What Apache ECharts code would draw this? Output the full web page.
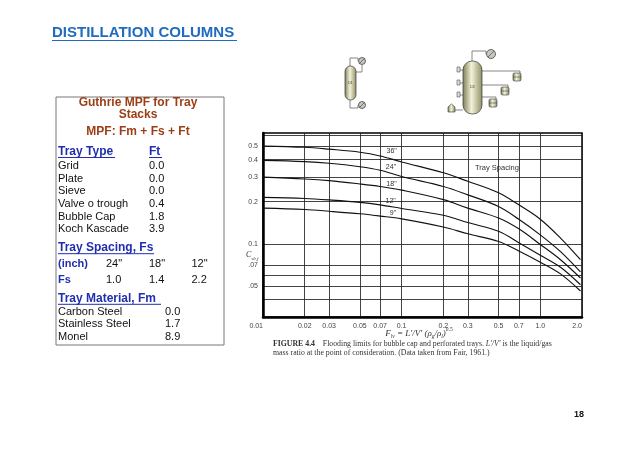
<!DOCTYPE html>
<html><head><meta charset="utf-8">
<script src="https://cdn.jsdelivr.net/npm/echarts@6/dist/echarts.min.js"></script>
<style>html,body{margin:0;padding:0;background:#fff}#c{width:638px;height:451px}</style>
</head><body><div id="c"></div>
<script>
// Flow parameter F_lv (x) and flooding capacity C_sb,f (y) per tray spacing
const flv = [0.01, 0.02, 0.03, 0.05, 0.07, 0.1, 0.2, 0.3, 0.5, 0.7, 1.0, 1.4, 1.95];
const c36 = [0.500, 0.490, 0.475, 0.452, 0.425, 0.385, 0.322, 0.280, 0.232, 0.190, 0.150, 0.110, 0.077];
const c24 = [0.395, 0.387, 0.377, 0.356, 0.336, 0.303, 0.257, 0.224, 0.185, 0.150, 0.116, 0.088, 0.063];
const c18 = [0.300, 0.291, 0.283, 0.268, 0.257, 0.242, 0.207, 0.180, 0.153, 0.128, 0.099, 0.077, 0.057];
const c12 = [0.215, 0.211, 0.206, 0.198, 0.190, 0.179, 0.160, 0.142, 0.123, 0.102, 0.083, 0.068, 0.051];
const c9  = [0.180, 0.176, 0.171, 0.164, 0.158, 0.151, 0.132, 0.118, 0.104, 0.089, 0.074, 0.061, 0.046];
const seriesNames = ['36"', '24"', '18"', '12"', '9"'];
const xTickLabels = [0.01, 0.02, 0.03, 0.05, 0.07, 0.1, 0.2, 0.3, 0.5, 0.7, 1.0, 2.0];
const xGridValues = [0.01, 0.02, 0.03, 0.05, 0.07, 0.1, 0.2, 0.3, 0.5, 0.7, 1.0, 2.0];
const yTickLabels = [0.05, 0.07, 0.1, 0.2, 0.3, 0.4, 0.5];
const yGridValues = [0.04, 0.05, 0.06, 0.07, 0.1, 0.2, 0.3, 0.4, 0.5, 0.6];

// Left table
const trayTypes = ['Grid', 'Plate', 'Sieve', 'Valve o trough', 'Bubble Cap', 'Koch Kascade'];
const trayFt = ['0.0', '0.0', '0.0', '0.4', '1.8', '3.9'];
const spacingInch = ['24"', '18"', '12"'];
const spacingFs = ['1.0', '1.4', '2.2'];
const materials = ['Carbon Steel', 'Stainless Steel', 'Monel'];
const materialFm = ['0.0', '1.7', '8.9'];

const SANS = '"Liberation Sans", Arial, sans-serif';
const SERIF = '"Liberation Serif", "Times New Roman", serif';
const BROWN = '#9c3d14';
const BLUE = '#1f2fae';

const chart = echarts.init(document.getElementById('c'), null, {renderer: 'canvas'});

const curves = [c36, c24, c18, c12, c9];
const series = curves.map((arr, k) => ({
  name: seriesNames[k],
  type: 'line',
  smooth: 0.35,
  symbol: 'none',
  silent: true,
  lineStyle: {color: '#111', width: 1.15},
  data: flv.map((x, i) => [x, arr[i]])
}));

const g = [];
function txt(text, x, y, font, fill, align) {
  g.push({type: 'text', z: 10, style: {text, x, y, font, fill: fill || '#111', align: align || 'left', verticalAlign: 'middle'}});
}
function uline(x1, x2, y, color, w) {
  g.push({type: 'line', z: 10, shape: {x1, y1: y, x2, y2: y}, style: {stroke: color, lineWidth: w || 1}});
}

// Slide title
txt('DISTILLATION COLUMNS', 52, 33, 'bold 15px ' + SANS, '#1f6bbf');
uline(52, 237, 40.5, '#1f6bbf', 1.2);

// Box
g.push({type: 'rect', z: 5, shape: {x: 56, y: 97, width: 168, height: 248}, style: {fill: 'none', stroke: '#777', lineWidth: 1}});
txt('Guthrie MPF for Tray', 138, 103, 'bold 12px ' + SANS, BROWN, 'center');
txt('Stacks', 138, 114.5, 'bold 12px ' + SANS, BROWN, 'center');
txt('MPF: Fm + Fs + Ft', 138, 131.5, 'bold 12px ' + SANS, BROWN, 'center');
txt('Tray Type', 58, 151.5, 'bold 12px ' + SANS, BLUE);
uline(58, 115, 157.5, BLUE);
txt('Ft', 149, 151.5, 'bold 12px ' + SANS, BLUE);
uline(149, 162, 157.5, BLUE);
const rowY = [166, 178.7, 191.2, 204, 216.7, 229.3];
trayTypes.forEach((t, i) => { txt(t, 58, rowY[i], '11px ' + SANS); txt(trayFt[i], 149, rowY[i], '11px ' + SANS); });
txt('Tray Spacing, Fs', 58, 247.7, 'bold 12px ' + SANS, BLUE);
uline(58, 154, 253.7, BLUE);
txt('(inch)', 58, 264.3, 'bold 11px ' + SANS, BLUE);
txt('Fs', 58, 280, 'bold 11px ' + SANS, BLUE);
const colX = [106, 149, 191.5];
spacingInch.forEach((t, i) => txt(t, colX[i], 264.3, '11px ' + SANS));
spacingFs.forEach((t, i) => txt(t, colX[i], 280, '11px ' + SANS));
txt('Tray Material, Fm', 58, 298.3, 'bold 12px ' + SANS, BLUE);
uline(58, 161, 304.3, BLUE);
const matY = [311.7, 324.3, 337.3];
materials.forEach((t, i) => { txt(t, 58, matY[i], '11px ' + SANS); txt(materialFm[i], 165, matY[i], '11px ' + SANS); });

// Page number
txt('18', 579, 415, 'bold 9px ' + SANS, '#111', 'center');

// Curve labels & annotations
const lblPos = [[391.7, 151.5], [391, 167.5], [391.5, 184], [390.7, 201.3], [393, 213]];
seriesNames.forEach((n, i) => txt(n, lblPos[i][0], lblPos[i][1], '7px ' + SANS, '#333', 'center'));
txt('Tray Spacing', 497, 168, '7.5px ' + SANS, '#333', 'center');

// Y axis name
g.push({type: 'text', z: 10, style: {
  text: '{c|C}{s|sb,f}', x: 246, y: 255, align: 'left', verticalAlign: 'middle',
  rich: {
    c: {font: 'italic 8px ' + SERIF, fill: '#333', lineHeight: 12, verticalAlign: 'middle'},
    s: {font: 'italic 5px ' + SERIF, fill: '#333', lineHeight: 12, verticalAlign: 'bottom'}
  }}});
// X axis name
g.push({type: 'text', z: 10, style: {
  text: '{m|F}{s|lv}{m| = L\'/V\' (\u03c1}{s|g}{m|/\u03c1}{s|l}{m|)}{p|0.5}', x: 419, y: 333.5, align: 'center', verticalAlign: 'middle',
  rich: {
    m: {font: 'italic 9px ' + SERIF, fill: '#333', lineHeight: 13, verticalAlign: 'middle'},
    s: {font: 'italic 5.5px ' + SERIF, fill: '#333', lineHeight: 13, verticalAlign: 'bottom'},
    p: {font: '5.5px ' + SERIF, fill: '#333', lineHeight: 13, verticalAlign: 'top'}
  }}});
// Caption
g.push({type: 'text', z: 10, style: {
  text: '{b|FIGURE 4.4}{n|    Flooding limits for bubble cap and perforated trays. }{i|L\'/V\'}{n| is the liquid/gas}',
  x: 273, y: 343.5, align: 'left', verticalAlign: 'middle',
  rich: {
    b: {font: 'bold 7.8px ' + SERIF, fill: '#333'},
    n: {font: '7.8px ' + SERIF, fill: '#333'},
    i: {font: 'italic 7.8px ' + SERIF, fill: '#333'}
  }}});
txt('mass ratio at the point of consideration. (Data taken from Fair, 1961.)', 273, 352.5, '7.8px ' + SERIF, '#333');

// Process flowsheet icons (decorative)
const colGrad = () => new echarts.graphic.LinearGradient(0, 0, 1, 0, [
  {offset: 0, color: '#7d7d58'}, {offset: 0.45, color: '#f2f2d8'}, {offset: 1, color: '#8e8e66'}]);
function poly(points) { g.push({type: 'polyline', z: 6, shape: {points}, style: {stroke: '#555', lineWidth: 0.7, fill: 'none'}}); }
function gauge(cx, cy, r) {
  g.push({type: 'circle', z: 7, shape: {cx, cy, r}, style: {fill: '#c8c8c0', stroke: '#333', lineWidth: 0.7}});
  g.push({type: 'line', z: 8, shape: {x1: cx - r * 0.7, y1: cy + r * 0.7, x2: cx + r * 0.7, y2: cy - r * 0.7}, style: {stroke: '#333', lineWidth: 0.6}});
}
function drum(x, y) {
  g.push({type: 'rect', z: 7, shape: {x, y, width: 8, height: 8, r: 1.5}, style: {fill: colGrad(), stroke: '#333', lineWidth: 0.6}});
  g.push({type: 'line', z: 8, shape: {x1: x, y1: y + 4, x2: x + 8, y2: y + 4}, style: {stroke: '#333', lineWidth: 0.5}});
}
// D1
poly([[350, 67], [350, 58], [358, 58], [358, 61]]);
poly([[350, 99], [350, 108], [358, 108], [358, 105]]);
poly([[356, 72], [362, 72], [362, 65]]);
g.push({type: 'rect', z: 7, shape: {x: 345, y: 66, width: 11, height: 34, r: 5.5}, style: {fill: colGrad(), stroke: '#333', lineWidth: 0.7}});
txt('D1', 350.5, 83, '3.5px ' + SANS, '#333', 'center');
gauge(362, 61, 3.5);
gauge(362, 105, 3.5);
// D2
poly([[472, 61], [472, 51], [486, 51], [486, 54]]);
poly([[482, 71], [520, 71], [520, 73]]);
poly([[482, 85], [508, 85], [508, 87]]);
poly([[482, 97], [496, 97], [496, 99]]);
poly([[463, 70], [458, 70]]);
poly([[463, 83], [458, 83]]);
poly([[463, 95], [458, 95]]);
poly([[463, 110], [455, 110]]);
g.push({type: 'rect', z: 7, shape: {x: 463, y: 61, width: 19, height: 53, r: 9}, style: {fill: colGrad(), stroke: '#333', lineWidth: 0.7}});
txt('D2', 472.5, 87, '3.5px ' + SANS, '#333', 'center');
gauge(491, 54, 4.5);
drum(513, 73); drum(501, 87); drum(489, 99);
[[457, 67], [457, 80], [457, 92]].forEach(p => g.push({type: 'rect', z: 7, shape: {x: p[0], y: p[1], width: 3, height: 5}, style: {fill: '#ddd', stroke: '#333', lineWidth: 0.5}}));
g.push({type: 'polygon', z: 7, shape: {points: [[448, 112], [448, 107], [451.5, 104], [455, 107], [455, 112]]}, style: {fill: colGrad(), stroke: '#333', lineWidth: 0.6}});

const axisLabelCommon = {color: '#444', fontSize: 7, fontFamily: SANS};

chart.setOption({
  animation: false,
  backgroundColor: '#fff',
  grid: {left: 263, right: 56, top: 133, bottom: 134, show: true, borderColor: '#000', borderWidth: 1.5, containLabel: false},
  xAxis: {
    type: 'log', logBase: 10, min: 0.01, max: 2,
    axisLine: {show: true, onZero: false, lineStyle: {color: '#000', width: 2.5}},
    axisTick: {show: false, customValues: xGridValues},
    minorTick: {show: false}, minorSplitLine: {show: false},
    axisLabel: Object.assign({}, axisLabelCommon, {
      customValues: xTickLabels, margin: 6, showMinLabel: true, showMaxLabel: true,
      alignMinLabel: 'right', alignMaxLabel: 'right',
      formatter: v => (v >= 1 ? Number(v).toFixed(1) : String(+Number(v).toPrecision(3)))
    }),
    splitLine: {show: true, lineStyle: {color: '#222', width: 0.85}}
  },
  yAxis: {
    type: 'log', logBase: 10, min: 0.03, max: 0.62,
    axisLine: {show: true, onZero: false, lineStyle: {color: '#000', width: 2.5}},
    axisTick: {show: false, customValues: yGridValues},
    minorTick: {show: false}, minorSplitLine: {show: false},
    axisLabel: Object.assign({}, axisLabelCommon, {
      customValues: yTickLabels, margin: 5,
      formatter: v => { const s = String(+Number(v).toPrecision(3)); return v < 0.1 ? s.replace(/^0/, '') : s; }
    }),
    splitLine: {show: true, lineStyle: {color: '#222', width: 0.85}}
  },
  series,
  graphic: g
});
</script>
</body></html>
